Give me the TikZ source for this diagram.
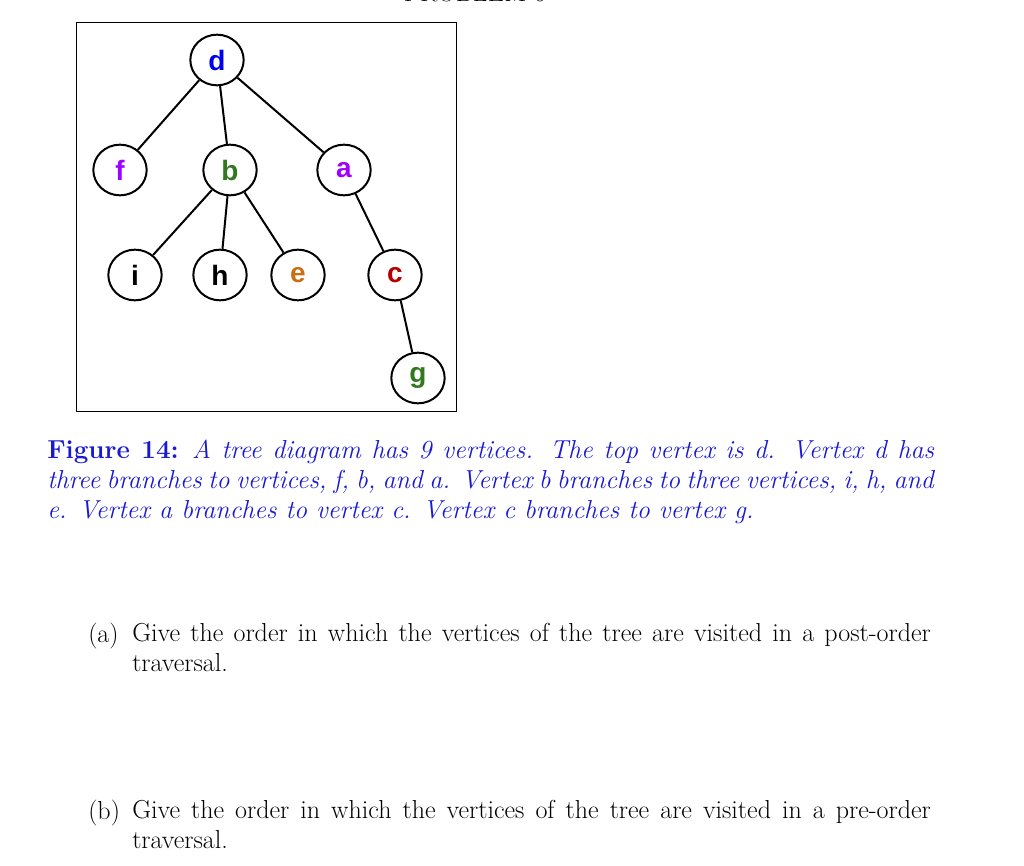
\documentclass[tikz,border=0pt]{standalone}
\usepackage{fontspec}
\usetikzlibrary{shapes.geometric}
\newfontfamily\lsans{Liberation Sans}
\definecolor{capblue}{RGB}{25,25,210}
\definecolor{vpurple}{RGB}{160,0,255}
\definecolor{vgreen}{RGB}{50,120,30}
\definecolor{vblue}{RGB}{0,0,240}
\definecolor{vorange}{RGB}{200,110,20}
\definecolor{vred}{RGB}{180,0,0}
\begin{document}
\begin{tikzpicture}[x=0.75pt,y=-0.75pt,
  vert/.style={draw,line width=1.5pt,ellipse,minimum width=40pt,minimum height=38pt,inner sep=0pt,font=\lsans\bfseries\fontsize{21}{21}\selectfont},
  edge/.style={line width=1.5pt},
  txt/.style={font=\fontsize{19.5}{22.5}\selectfont,inner sep=0pt}]
\useasboundingbox (0,0) rectangle (1024,866);
\node[txt,anchor=base] (ttl) at (475,2) {PROBLEM 6};
\draw[line width=0.6pt] (76,22) rectangle (456,411);
\node[vert,text=vblue] (d) at (217,60) {d};
\node[vert,text=vpurple] (f) at (120,170) {f};
\node[vert,text=vgreen] (b) at (230,170) {b};
\node[vert,text=vpurple] (a) at (344,170) {a};
\node[vert] (i) at (135,275) {i};
\node[vert] (h) at (220,275) {h};
\node[vert,text=vorange] (e) at (298,275) {e};
\node[vert,text=vred] (c) at (395,275) {c};
\node[vert,text=vgreen] (g) at (418,378) {g};
\draw[edge] (d)--(f) (d)--(b) (d)--(a) (b)--(i) (b)--(h) (b)--(e) (a)--(c) (c)--(g);
\node[txt,anchor=north west,text width=665pt,align=justify,text=capblue] (cap) at (47,440)
 {\textbf{Figure 14:} \textit{A tree diagram has 9 vertices. The top vertex is d. Vertex d has\linebreak three branches to vertices, f, b, and a. Vertex b branches to three vertices, i, h, and\linebreak e. Vertex a branches to vertex c. Vertex c branches to vertex g.}};
\node[txt,anchor=north west] (qa) at (88,623) {(a)};
\node[txt,anchor=north west,text width=599pt,align=justify] (ta) at (132,623) {Give the order in which the vertices of the tree are visited in a post-order\linebreak traversal.};
\node[txt,anchor=north west] (qb) at (88,800) {(b)};
\node[txt,anchor=north west,text width=599pt,align=justify] (tb) at (132,800) {Give the order in which the vertices of the tree are visited in a pre-order\linebreak traversal.};
\end{tikzpicture}
\end{document}
